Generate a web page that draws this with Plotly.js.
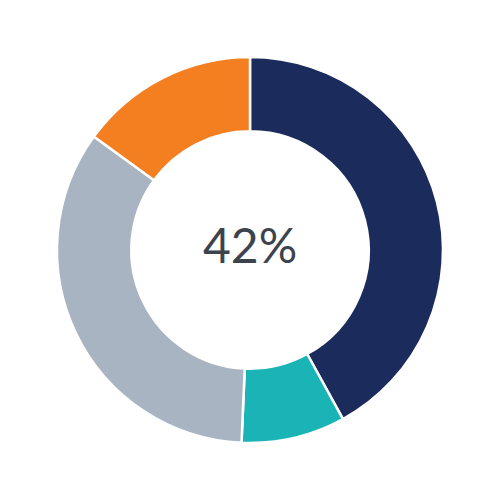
<!DOCTYPE html>
<html>
<head>
<meta charset="utf-8">
<script src="https://cdn.plot.ly/plotly-3.0.1.min.js"></script>
<style>
  body { margin: 0; background: #fff; }
  #chart { width: 500px; height: 500px; }
</style>
</head>
<body>
<div id="chart"></div>
<script>
const labels = ["Navy", "Teal", "Grey", "Orange"];
const values = [42, 8.7, 34.3, 15];
const colors = ["#1b2b5b", "#1ab4b6", "#a9b4c2", "#f47f20"];
const centerLabel = "42%";

const data = [{
  type: "pie",
  labels: labels,
  values: values,
  hole: 0.615,
  sort: false,
  direction: "clockwise",
  rotation: 0,
  textinfo: "none",
  hoverinfo: "label+percent",
  marker: { colors: colors, line: { color: "#ffffff", width: 2.5 } },
  domain: { x: [0, 1], y: [0, 1] },
}];

const layout = {
  width: 500,
  height: 500,
  margin: { l: 57, r: 57, t: 57, b: 57 },
  showlegend: false,
  paper_bgcolor: "#ffffff",
  annotations: [{
    text: centerLabel,
    x: 0.5, y: 0.5, xref: "paper", yref: "paper",
    yshift: 6,
    showarrow: false,
    font: { family: "Lato, sans-serif", size: 48, color: "#3c434d" },
  }],
};

Plotly.newPlot("chart", data, layout, { displayModeBar: false });
</script>
</body>
</html>
